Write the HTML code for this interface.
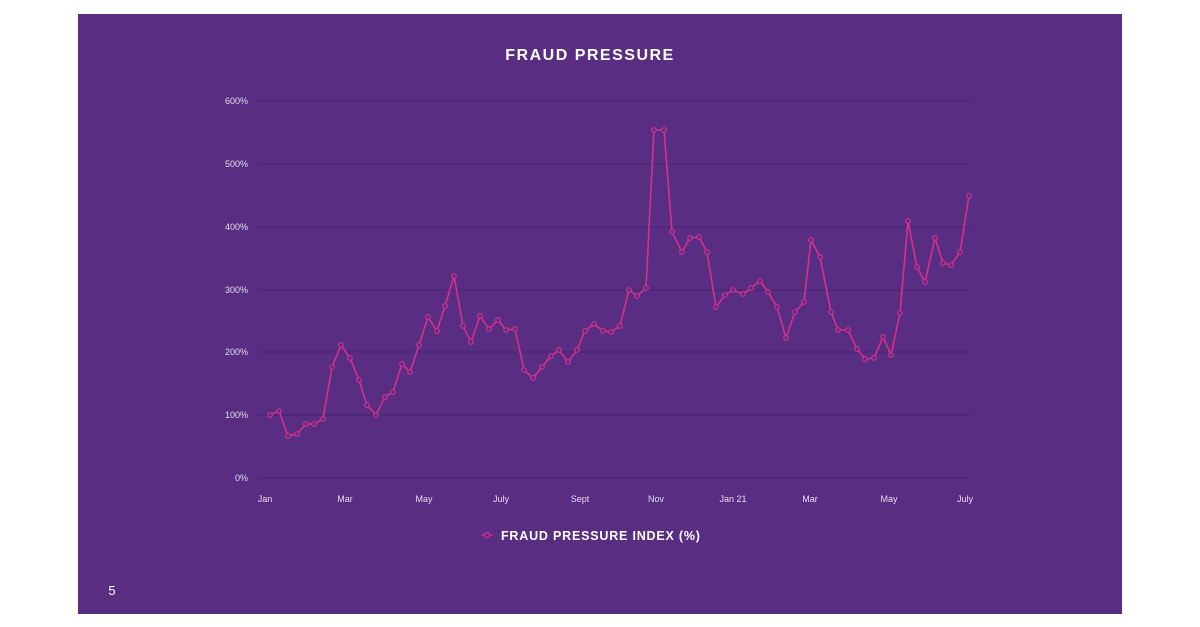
<!DOCTYPE html>
<html><head><style>
body{margin:0;background:#fff;width:1200px;height:627px;overflow:hidden;font-family:"Liberation Sans",sans-serif}
</style></head><body>
<svg width="1200" height="627" xmlns="http://www.w3.org/2000/svg" style="position:absolute;left:0;top:0">
<rect x="78" y="14" width="1044" height="600" fill="#582d82"/>
<text x="590" y="60" fill="#fff" font-size="16" font-weight="bold" text-anchor="middle" letter-spacing="1.5">FRAUD PRESSURE</text>
<g stroke="#4a236f" stroke-width="1.1">
<line x1="258" x2="970" y1="101" y2="101"/><line x1="258" x2="970" y1="164" y2="164"/>
<line x1="258" x2="970" y1="227" y2="227"/><line x1="258" x2="970" y1="290" y2="290"/>
<line x1="258" x2="970" y1="352" y2="352"/><line x1="258" x2="970" y1="415" y2="415"/>
<line x1="258" x2="970" y1="478" y2="478"/>
</g>
<g fill="#e6dcef" font-size="9" text-anchor="end">
<text x="248" y="104">600%</text><text x="248" y="167">500%</text><text x="248" y="230">400%</text>
<text x="248" y="293">300%</text><text x="248" y="355">200%</text><text x="248" y="418">100%</text><text x="248" y="481">0%</text>
</g>
<g fill="#e6dcef" font-size="9" text-anchor="middle">
<text x="265" y="502">Jan</text><text x="345" y="502">Mar</text><text x="424" y="502">May</text><text x="501" y="502">July</text>
<text x="580" y="502">Sept</text><text x="656" y="502">Nov</text><text x="733" y="502">Jan 21</text><text x="810" y="502">Mar</text>
<text x="889" y="502">May</text><text x="965" y="502">July</text>
</g>
<polyline id="s" fill="none" stroke="#d5308f" stroke-width="1.6" points="270,415 279,411 288,436 297,434 306,424 314,424 323,419 332,367 341,345 350,358 359,380 367,405 376,415 385,397 393,392 402,364 410,372 419,345 428,317 437,331 445,306 454,276 463,326 471,342 480,316 489,329 498,320 506,330 515,329 524,370 533,378 542,367 551,356 559,350 568,362 577,350 585,331 594,324 603,331 611,332 620,326 629,290 637,296 646,288 654,130 664,130 672,232 682,252 690,238 699,237 707,252 716,307 725,295 733,290 743,294 751,288 760,281 768,292 777,307 786,338 795,312 804,302 811,240 820,257 831,312 838,330 848,330 857,349 865,359 874,358 883,337 891,355 900,313 908,221 917,267 925,282 935,238 943,263 951,265 960,252 969,196"/>
<g id="d" fill="#582d82" stroke="#d5308f" stroke-width="1.2"></g>
<line x1="481" x2="493" y1="535" y2="535" stroke="#d5308f" stroke-width="1.2"/>
<circle cx="487" cy="535" r="2.5" fill="#582d82" stroke="#d5308f" stroke-width="1.2"/>
<text x="501" y="540" fill="#fff" font-size="12.5" font-weight="bold" letter-spacing="0.8">FRAUD PRESSURE INDEX (%)</text>
<text x="112" y="595" fill="#fff" font-size="13" text-anchor="middle">5</text>
</svg>
<script>
var p=document.getElementById('s').getAttribute('points').trim().split(/\s+/),g=document.getElementById('d');
p.forEach(function(q){var a=q.split(',');var c=document.createElementNS('http://www.w3.org/2000/svg','circle');c.setAttribute('cx',a[0]);c.setAttribute('cy',a[1]);c.setAttribute('r','2.3');g.appendChild(c);});
</script>
</body></html>
